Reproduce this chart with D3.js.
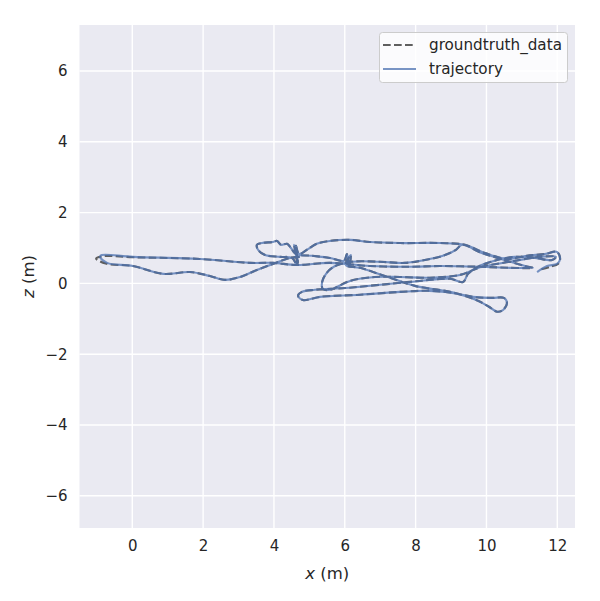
<!doctype html>
<html lang="">
<head>
<meta charset="utf-8">
<style>
    body { margin: 0; background: #ffffff; }
    text { font-family: "DejaVu Sans", sans-serif; fill: #262626; }
</style>
</head>
<body>

<div class="start"></div>

<script src="https://d3js.org/d3.v7.min.js"></script>
<script>

    // estimated trajectory (x, z) in metres
    let trajX = [11.43, 11.71, 11.99, 12.08, 11.99, 11.65, 11.14, 10.58, 9.96, 9.39,
        8.69, 7.56, 6.71, 6.15, 5.58, 5.21, 4.96, 4.71, 4.62, 4.68,
        4.57, 4.65, 4.51, 4.17, 3.75, 3.55, 3.52, 3.66, 3.97, 4.09,
        4.20, 4.37, 4.48, 4.62, 5.07, 5.58, 5.98, 6.06, 6.12, 6.17,
        6.03, 6.43, 7.13, 7.98, 8.83, 9.62, 10.16, 10.49, 10.58, 10.47,
        10.30, 10.07, 9.76, 9.20, 8.40, 7.56, 6.43, 5.30, 4.82, 4.68,
        4.79, 5.16, 6.01, 6.99, 8.12, 8.97, 9.34, 9.48, 9.76, 10.30,
        10.80, 11.37, 11.85, 11.96, 11.51, 10.66, 9.87, 9.25, 8.40, 7.56,
        6.85, 6.15, 5.58, 5.38, 5.36, 5.47, 5.69, 6.20, 6.99, 7.70,
        8.26, 8.77, 9.14, 9.31, 9.87, 10.58, 11.09, 11.31, 10.66, 9.82,
        8.69, 7.84, 6.71, 5.58, 4.65, 3.97, 3.32, 1.91, 0.02, -0.86,
        -0.91, -0.71, 0.02, 0.87, 1.63, 2.19, 2.62, 3.04, 3.52, 3.97,
        4.45, 4.73];
    let trajZ = [0.32, 0.49, 0.55, 0.69, 0.89, 0.83, 0.78, 0.69, 0.86, 1.09,
        1.14, 1.14, 1.17, 1.23, 1.20, 1.12, 0.97, 0.83, 1.06, 0.58,
        1.09, 0.52, 0.72, 0.75, 0.80, 0.95, 1.09, 1.14, 1.17, 1.20,
        1.09, 1.12, 1.00, 0.83, 0.78, 0.72, 0.64, 0.83, 0.49, 0.80,
        0.52, 0.44, 0.21, -0.07, -0.21, -0.38, -0.41, -0.41, -0.55, -0.75,
        -0.80, -0.66, -0.49, -0.30, -0.21, -0.24, -0.32, -0.38, -0.47, -0.35,
        -0.24, -0.18, -0.13, -0.04, 0.07, 0.13, 0.04, 0.27, 0.47, 0.66,
        0.75, 0.72, 0.66, 0.75, 0.75, 0.61, 0.47, 0.24, 0.16, 0.18,
        0.18, 0.07, -0.18, -0.16, 0.04, 0.27, 0.47, 0.61, 0.61, 0.58,
        0.66, 0.78, 0.95, 1.09, 0.86, 0.64, 0.49, 0.44, 0.44, 0.47,
        0.49, 0.47, 0.49, 0.58, 0.52, 0.58, 0.58, 0.69, 0.75, 0.80,
        0.75, 0.58, 0.49, 0.27, 0.32, 0.21, 0.10, 0.18, 0.38, 0.55,
        0.72, 0.75];

    // ground truth, almost the same path, differs at the ends
    let gtX = [11.55, 11.80, 12.02, 12.08, 11.99, 11.65, 11.14, 10.58, 9.96, 9.39,
        8.69, 7.56, 6.71, 6.15, 5.58, 5.21, 4.96, 4.71, 4.62, 4.68,
        4.57, 4.65, 4.51, 4.17, 3.75, 3.55, 3.52, 3.66, 3.97, 4.09,
        4.20, 4.37, 4.48, 4.62, 5.07, 5.58, 5.98, 6.06, 6.12, 6.17,
        6.03, 6.43, 7.13, 7.98, 8.83, 9.62, 10.16, 10.49, 10.58, 10.47,
        10.30, 10.07, 9.76, 9.20, 8.40, 7.56, 6.43, 5.30, 4.82, 4.68,
        4.79, 5.16, 6.01, 6.99, 8.12, 8.97, 9.34, 9.48, 9.76, 10.30,
        10.80, 11.37, 11.85, 11.96, 11.51, 10.66, 9.87, 9.25, 8.40, 7.56,
        6.85, 6.15, 5.58, 5.38, 5.36, 5.47, 5.69, 6.20, 6.99, 7.70,
        8.26, 8.77, 9.14, 9.31, 9.87, 10.58, 11.09, 11.31, 10.66, 9.82,
        8.69, 7.84, 6.71, 5.58, 4.65, 3.97, 3.32, 1.91, 0.02, -0.80,
        -1.02, -0.75, 0.02, 0.87, 1.63, 2.19, 2.62, 3.04, 3.52, 3.97,
        4.45, 4.73];
    let gtZ = [0.40, 0.47, 0.55, 0.69, 0.89, 0.83, 0.78, 0.69, 0.86, 1.09,
        1.14, 1.14, 1.17, 1.23, 1.20, 1.12, 0.97, 0.83, 1.06, 0.58,
        1.09, 0.52, 0.72, 0.75, 0.80, 0.95, 1.09, 1.14, 1.17, 1.20,
        1.09, 1.12, 1.00, 0.83, 0.78, 0.72, 0.64, 0.83, 0.49, 0.80,
        0.52, 0.44, 0.21, -0.07, -0.21, -0.38, -0.41, -0.41, -0.55, -0.75,
        -0.80, -0.66, -0.49, -0.30, -0.21, -0.24, -0.32, -0.38, -0.47, -0.35,
        -0.24, -0.18, -0.13, -0.04, 0.07, 0.13, 0.04, 0.27, 0.47, 0.66,
        0.75, 0.72, 0.66, 0.75, 0.75, 0.61, 0.47, 0.24, 0.16, 0.18,
        0.18, 0.07, -0.18, -0.16, 0.04, 0.27, 0.47, 0.61, 0.61, 0.58,
        0.66, 0.78, 0.95, 1.09, 0.86, 0.64, 0.49, 0.44, 0.44, 0.47,
        0.49, 0.47, 0.49, 0.58, 0.52, 0.58, 0.58, 0.69, 0.74, 0.77,
        0.70, 0.56, 0.49, 0.27, 0.32, 0.21, 0.10, 0.18, 0.38, 0.55,
        0.72, 0.75];

    let xTicks = [0, 2, 4, 6, 8, 10, 12];
    let zTicks = [-6, -4, -2, 0, 2, 4, 6];
    let seriesNames = ['groundtruth_data', 'trajectory'];

    let width = 600;
    let height = 601;
    let plot = {left: 79.5, right: 575, top: 25, bottom: 528};

    let svg = d3.select('.start').append('svg')
        .attr('width', width)
        .attr('height', height);

    // equal aspect axes, like matplotlib axis('equal')
    let x = d3.scaleLinear().domain([-1.49, 12.5]).range([plot.left, plot.right]);
    let y = d3.scaleLinear().domain([-6.91, 7.30]).range([plot.bottom, plot.top]);

    svg.append('rect')
        .attr('x', plot.left).attr('y', plot.top)
        .attr('width', plot.right - plot.left)
        .attr('height', plot.bottom - plot.top)
        .attr('fill', '#eaeaf2');

    // grid
    let grid = svg.append('g').attr('class', 'grid');
    grid.selectAll('.gx').data(xTicks).join('line')
        .attr('x1', d => x(d)).attr('x2', d => x(d))
        .attr('y1', plot.top).attr('y2', plot.bottom);
    grid.selectAll('.gy').data(zTicks).join('line')
        .attr('y1', d => y(d)).attr('y2', d => y(d))
        .attr('x1', plot.left).attr('x2', plot.right);
    grid.selectAll('line')
        .attr('stroke', '#ffffff')
        .attr('stroke-width', 1.4);

    // axes, no spines
    let xAxis = svg.append('g')
        .attr('transform', `translate(0,${plot.bottom})`)
        .call(d3.axisBottom(x).tickValues(xTicks).tickSize(0).tickPadding(12)
            .tickFormat(d => d < 0 ? '\u2212' + Math.abs(d) : d));
    let yAxis = svg.append('g')
        .attr('transform', `translate(${plot.left},0)`)
        .call(d3.axisLeft(y).tickValues(zTicks).tickSize(0).tickPadding(12)
            .tickFormat(d => d < 0 ? '\u2212' + Math.abs(d) : d));
    [xAxis, yAxis].forEach(a => {
        a.select('.domain').remove();
        a.selectAll('text')
            .attr('font-family', '"DejaVu Sans", sans-serif')
            .attr('font-size', 15)
            .attr('fill', '#262626');
    });

    // axis labels
    let xLabel = svg.append('text')
        .attr('x', (plot.left + plot.right) / 2)
        .attr('y', 579)
        .attr('text-anchor', 'middle')
        .attr('font-size', 16.5);
    xLabel.append('tspan').attr('font-style', 'italic').text('x');
    xLabel.append('tspan').text(' (m)');

    let zLabel = svg.append('text')
        .attr('transform', `translate(34,${(plot.top + plot.bottom) / 2}) rotate(-90)`)
        .attr('text-anchor', 'middle')
        .attr('font-size', 16.5);
    zLabel.append('tspan').attr('font-style', 'italic').text('z');
    zLabel.append('tspan').text(' (m)');

    // lines
    let line = d3.line()
        .x(d => x(d[0]))
        .y(d => y(d[1]))
        .curve(d3.curveCatmullRom.alpha(0.5));

    let gtData = gtX.map((v, i) => [v, gtZ[i]]);
    let trajData = trajX.map((v, i) => [v, trajZ[i]]);

    let clip = svg.append('clipPath').attr('id', 'clip')
        .append('rect')
        .attr('x', plot.left).attr('y', plot.top)
        .attr('width', plot.right - plot.left)
        .attr('height', plot.bottom - plot.top);

    let lines = svg.append('g').attr('clip-path', 'url(#clip)');

    lines.append('path')
        .datum(gtData)
        .attr('d', line)
        .attr('fill', 'none')
        .attr('stroke', '#5f5f5f')
        .attr('stroke-width', 2.1)
        .attr('stroke-dasharray', '7.7,3.3');

    lines.append('path')
        .datum(trajData)
        .attr('d', line)
        .attr('fill', 'none')
        .attr('stroke', '#4c72b0')
        .attr('stroke-opacity', 0.75)
        .attr('stroke-width', 2.1);

    // legend
    let legend = svg.append('g').attr('class', 'legend');
    legend.append('rect')
        .attr('x', 379.5).attr('y', 32.5)
        .attr('width', 188).attr('height', 50)
        .attr('rx', 3)
        .attr('fill', '#ffffff').attr('fill-opacity', 0.8)
        .attr('stroke', '#cccccc').attr('stroke-width', 1);

    let entries = legend.selectAll('g.entry')
        .data(seriesNames)
        .join('g')
        .attr('class', 'entry')
        .attr('transform', (d, i) => `translate(0,${45 + i * 24})`);

    entries.append('line')
        .attr('x1', 383).attr('x2', 416)
        .attr('y1', 0).attr('y2', 0)
        .attr('stroke', (d, i) => i === 0 ? '#5f5f5f' : '#4c72b0')
        .attr('stroke-opacity', (d, i) => i === 0 ? 1 : 0.75)
        .attr('stroke-width', 2.1)
        .attr('stroke-dasharray', (d, i) => i === 0 ? '7.7,3.3' : null);

    entries.append('text')
        .attr('x', 429)
        .attr('y', 5.3)
        .attr('font-size', 15.2)
        .text(d => d);

</script>
</body>
</html>
